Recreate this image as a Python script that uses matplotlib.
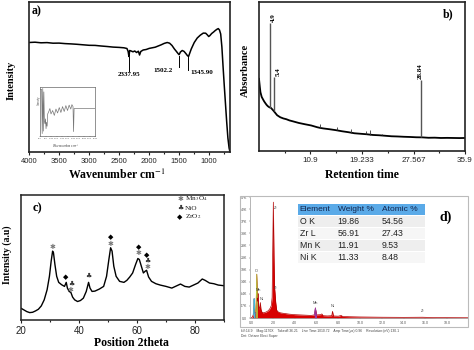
import numpy as np
import matplotlib
matplotlib.use("Agg")
import matplotlib.pyplot as plt
from matplotlib.patches import Rectangle

plt.rcParams['font.family'] = ['Liberation Sans', 'DejaVu Sans']
plt.rcParams['mathtext.fontset'] = 'stix'
SERIF = ['Liberation Serif', 'DejaVu Serif']
SYM = ['DejaVu Sans']

W, H = 474, 350

# a) FTIR spectrum
ftir_wn = [4000, 3900, 3800, 3700, 3600, 3500, 3400, 3300, 3200, 3100, 3000, 2900,
           2800, 2700, 2600, 2500, 2420, 2370, 2350, 2337, 2325, 2300, 2270, 2240,
           2210, 2180, 2160, 2140, 2100, 2050, 2000, 1950, 1900, 1850, 1800, 1750,
           1700, 1660, 1620, 1580, 1550, 1520, 1502, 1480, 1450, 1420, 1390, 1365,
           1345, 1330, 1300, 1250, 1200, 1150, 1100, 1060, 1030, 1010, 990, 960,
           930, 900, 870, 850, 830, 810, 790, 770, 750, 730, 710, 690, 670, 655]
ftir_val = [109.5, 109.8, 109.2, 109.4, 108.8, 108.9, 108.4, 108.1, 107.7, 107.2, 106.7, 106.6,
            106.0, 105.5, 104.9, 104.6, 104.2, 103.5, 100.5, 95.5, 101.5, 101.0, 100.2, 101.0,
            99.5, 100.8, 97.0, 100.5, 102.0, 102.5, 103.6, 104.2, 104.8, 106.0, 107.2, 108.6,
            109.5, 108.8, 106.5, 103.0, 100.8, 98.5, 97.3, 100.0, 101.5, 100.6, 98.5, 96.5,
            95.5, 98.0, 103.0, 109.5, 114.0, 116.8, 118.9, 118.8, 117.0, 115.5, 116.4, 118.5,
            119.9, 121.5, 122.8, 123.4, 122.0, 118.0, 105.0, 85.0, 66.0, 48.0, 30.0, 14.0, 4.0, 0.0]
ftir_marks = [2337.95, 1502.2, 1345.90]
ftir_mark_labels = ['2337.95', '1502.2', '1345.90']
ftir_ticks = [4000, 3500, 3000, 2500, 2000, 1500, 1000]

# a) inset
inset_x = [0, 3, 4, 5, 6, 7, 8, 9, 10, 11, 12, 13, 14, 16, 18, 20, 23, 26, 29, 32,
           35, 38, 41, 44, 47, 50, 53, 56, 58, 60, 61, 62, 65, 100]
inset_y = [0.95, 0.95, 0.05, 0.97, 0.1, 0.9, 0.3, 0.25, 0.35, 0.15, 0.28, 0.2, 0.45, 0.5,
           0.56, 0.45, 0.52, 0.42, 0.55, 0.47, 0.58, 0.48, 0.6, 0.5, 0.62, 0.52, 0.63, 0.55,
           0.64, 0.6, 0.09, 0.56, 0.56, 0.56]

# b) chromatogram
b_time = [2.567, 2.7, 2.8, 3.0, 3.2, 3.4, 3.6, 3.8, 4.0, 4.2, 4.5, 4.8, 5.2, 5.5, 6.0, 6.5,
          7.0, 7.5, 8.0, 9.0, 10.0, 11.0, 12.0, 12.5, 13.0, 14.0, 15.0, 16.0, 17.0, 18.0,
          19.0, 20.0, 21.0, 22.0, 23.0, 24.0, 25.0, 26.0, 27.0, 28.0, 29.0, 30.0, 31.0,
          32.0, 33.0, 34.0, 35.0, 35.9]
b_abs = [72, 64, 58.7, 54, 51.7, 49.5, 47.7, 46, 44.7, 43.8, 43, 41, 38, 35.7, 33.7, 32.5,
         31.7, 30.5, 29.7, 28, 26.7, 25.5, 23.7, 23, 22.5, 21.7, 20.8, 19.7, 18.8, 17.7,
         17.2, 16.7, 16, 15.7, 15.2, 14.7, 14.5, 14.2, 14, 13.7, 13.6, 13.2, 13.3,
         13, 13.1, 13, 12.9, 13]
b_peak_time = [4.35, 5.0, 28.7]
b_peak_abs = [128, 74, 70.7]
b_peak_labels = ['4.9', '5.4', '28.84']
b_small_time = [12.4, 15.2, 17.4, 19.8, 20.6, 22.4]
b_small_abs = [27, 24, 22, 20, 21, 17]
b_ticks = [10.9, 19.233, 27.567, 35.9]

# c) XRD
c_theta = [20, 21, 22, 23, 24, 25, 26, 27, 28, 29, 29.8, 30.4, 30.9, 31.2, 31.7, 32.3, 33,
           34, 35, 35.6, 36, 36.6, 37.2, 37.8, 38.5, 39.5, 40.5, 41.5, 42.5, 43.3, 43.8,
           44.5, 45.5, 47, 48.5, 49.5, 50.3, 50.9, 51.4, 52, 52.8, 54, 55.5, 56.5, 57.5,
           58.5, 59.5, 60.3, 60.8, 61.5, 62.2, 62.8, 63.3, 64, 65, 66.5, 68, 70, 72, 74,
           75, 76.5, 78, 79.5, 81, 82.5, 83.5, 85, 86.5, 88, 90]
c_int = [35, 30, 25, 22, 23, 27, 32, 42, 60, 90, 130, 175, 205, 200, 165, 130, 112,
         105, 100, 112, 95, 85, 82, 68, 60, 55, 58, 65, 85, 112, 95,
         85, 86, 92, 100, 130, 180, 215, 205, 160, 130, 115, 112, 118, 128,
         140, 165, 183, 180, 160, 140, 145, 148, 128, 115, 108, 104, 100, 95, 103,
         107, 100, 98, 104, 110, 122, 118, 110, 108, 104, 102]
ASTER, CLUB, DIAM = '\u2731', '\u2663', '\u25c6'
c_mark_theta = [30.9, 35.5, 37.2, 37.2, 43.3, 51.0, 51.0, 60.5, 60.5, 63.5, 63.5, 63.5]
c_mark_int = [217, 127, 108, 90, 130, 247, 227, 217, 198, 192, 175, 157]
c_mark_sym = [ASTER, DIAM, CLUB, ASTER, CLUB, DIAM, ASTER, DIAM, ASTER, DIAM, CLUB, ASTER]
c_legend = [(ASTER, 'Mn$_3$O$_4$'), (CLUB, 'NiO'), (DIAM, 'ZrO$_2$')]

# d) EDS spectrum (counts in K)
d_kev = [0.0, 0.1, 0.2, 0.25, 0.28, 0.31, 0.36, 0.42, 0.47, 0.52, 0.57, 0.61, 0.64, 0.68,
         0.74, 0.8, 0.85, 0.9, 0.98, 1.1, 1.3, 1.5, 1.65, 1.75, 1.85, 1.93, 1.98, 2.04,
         2.1, 2.15, 2.2, 2.26, 2.35, 2.5, 2.7, 3.0, 3.5, 4.0, 4.5, 5.0, 5.5, 5.8, 5.85,
         5.9, 5.95, 6.0, 6.4, 6.49, 6.6, 7.0, 7.4, 7.47, 7.55, 8.0, 8.26, 8.4, 9.0, 10.0,
         11.0, 12.0, 14.0, 15.7, 17.0, 19.9]
d_counts = [0, 0.3, 1.2, 4.5, 7.5, 4.0, 1.8, 2.5, 6.0, 17.0, 8.0, 6.5, 9.5, 5.0,
            3.2, 4.5, 6.0, 3.5, 2.4, 2.0, 2.2, 2.6, 3.2, 3.8, 4.8, 8.0, 25.0, 45.0,
            24.0, 12.0, 9.5, 6.0, 3.0, 2.3, 2.0, 1.8, 1.5, 1.3, 1.2, 1.1, 1.0, 1.2, 2.5,
            3.9, 2.4, 1.2, 1.3, 1.6, 0.9, 0.8, 0.9, 2.6, 0.8, 0.7, 1.0, 0.6, 0.5, 0.4,
            0.35, 0.3, 0.25, 0.3, 0.15, 0.1]
d_yticks = [0, 4.7, 9.4, 14.1, 18.8, 23.5, 28.2, 32.9, 37.6, 42.3, 47]
d_ylabels = ['0.0', '4.7K', '9.4K', '14K', '19K', '23K', '28K', '33K', '37K', '42K', '47K']
d_xticks = [0, 2, 4, 6, 8, 10, 12, 14, 16, 18]
d_peak_names = ['O', 'Mn', 'Ni', 'Zr', 'Zr', 'Mn', 'Ni', 'Zr']
d_peak_kev = [0.5, 0.68, 0.95, 2.3, 2.3, 5.9, 7.47, 15.7]
d_peak_cnt = [17.5, 10.0, 6.5, 42.0, 11.0, 5.0, 4.0, 2.0]
d_colored = [(0.2, 0.36, '#3fc0e0'), (0.42, 0.57, '#b8c840'), (5.8, 6.0, '#9a3aa8')]

tab_header = ['Element', 'Weight %', 'Atomic %']
tab_element = ['O K', 'Zr L', 'Mn K', 'Ni K']
tab_weight = [19.86, 56.91, 11.91, 11.33]
tab_atomic = [54.56, 27.43, 9.53, 8.48]

fig = plt.figure(figsize=(W / 100, H / 100), dpi=100)


def px_axes(l, t, r, b):
    return fig.add_axes([l / W, 1 - b / H, (r - l) / W, (b - t) / H])


def ftext(x, y, s, **kw):
    fig.text(x / W, 1 - y / H, s, **kw)


def frame(ax, lw=1.2):
    for sp in ax.spines.values():
        sp.set_linewidth(lw)
        sp.set_color('#222222')
    ax.set_yticks([])
    ax.tick_params(axis='x', which='both', direction='out', length=2.5, width=0.8,
                   pad=1.5, labelsize=5.5, colors='#222222')
    ax.tick_params(axis='x', which='minor', length=1.5)


# ---- panel a
ax = px_axes(29, 2, 230, 152)
ax.plot(ftir_wn, ftir_val, color='black', lw=1.1)
ax.set_xlim(4000, 655)
ax.set_ylim(0, 150)
ax.set_xticks(ftir_ticks)
ax.set_xticks(np.arange(3750, 700, -500), minor=True)
frame(ax)
label_y = [78, 82, 79]
label_ha = ['center', 'right', 'left']
label_dx = [0, 110, -25]
for wn, lab, ly, ha, dx in zip(ftir_marks, ftir_mark_labels, label_y, label_ha, label_dx):
    yv = np.interp(-wn, -np.array(ftir_wn), ftir_val)
    ax.plot([wn, wn], [yv - 1, ly + 3.5], color='black', lw=0.7)
    ax.text(wn + dx, ly, lab, ha=ha, va='center', fontsize=5, fontweight='bold',
            family=SERIF)
ftext(37, 11, 'a)', fontsize=8.5, fontweight='bold', family=SERIF, ha='center', va='center')
ftext(11, 80, 'Intensity', fontsize=7.5, fontweight='bold', family=SERIF, rotation=90,
      ha='center', va='center')
ftext(117, 175, 'Wavenumber cm$^{-1}$', fontsize=8.5, fontweight='bold', family=SERIF,
      ha='center', va='center')

ins = px_axes(40, 87, 95, 136)
ins.plot(inset_x, inset_y, color='#777777', lw=0.5)
ins.set_xlim(0, 100)
ins.set_ylim(0, 1)
ins.set_yticks([])
ins.set_xticks(np.arange(0, 101, 10))
ins.set_xticklabels([str(v) for v in range(500, 4001, 350)][:11])
ins.tick_params(labelsize=1.6, length=1, width=0.3, pad=0.5, colors='#555555')
for sp in ins.spines.values():
    sp.set_linewidth(0.5)
    sp.set_color('#666666')
ftext(66, 145, 'Wavenumber cm$^{-1}$', fontsize=2.2, ha='center', va='center', color='#444444')
ftext(38.5, 100, 'Intensity', fontsize=1.8, rotation=90, ha='center', va='center',
      color='#444444')

# ---- panel b
bx = px_axes(259, 2, 465, 151)
bx.plot(b_time, b_abs, color='black', lw=1.3)
base = np.interp(b_peak_time, b_time, b_abs)
bx.vlines(b_peak_time, base, b_peak_abs, color='#555555', lw=1.0)
sbase = np.interp(b_small_time, b_time, b_abs)
bx.vlines(b_small_time, sbase, b_small_abs, color='#333333', lw=0.6)
bx.set_xlim(2.567, 35.9)
bx.set_ylim(0, 148.7)
bx.set_xticks(b_ticks)
bx.set_xticklabels(['10.9', '19.233', '27.567', '35.9'])
bx.set_xticks([6.733, 15.067, 23.4, 31.733], minor=True)
frame(bx)
bx.tick_params(axis='x', labelsize=5.8)
for t, a, lab, dx in zip(b_peak_time, b_peak_abs, b_peak_labels, [0.6, 0.6, 0.0]):
    bx.text(t + dx, a + 1, lab, rotation=90, ha='center', va='bottom', fontsize=5,
            fontweight='bold', family=SERIF)
ftext(448, 14, 'b)', fontsize=8.5, fontweight='bold', family=SERIF, ha='center', va='center')
ftext(245, 70, 'Absorbance', fontsize=7.5, fontweight='bold', family=SERIF, rotation=90,
      ha='center', va='center')
ftext(362, 175, 'Retention time', fontsize=8.5, fontweight='bold', family=SERIF,
      ha='center', va='center')

# ---- panel c
cx = px_axes(21, 195, 224, 320)
cx.plot(c_theta, c_int, color='black', lw=1.0)
cx.set_xlim(20, 90)
cx.set_ylim(0, 372)
cx.set_xticks([20, 40, 60, 80])
cx.set_xticks([30, 50, 70, 90], minor=True)
frame(cx, lw=1.1)
cx.tick_params(axis='x', labelsize=7)
sym_col = {ASTER: '#777777', CLUB: '#333333', DIAM: '#000000'}
for th, iv, s in zip(c_mark_theta, c_mark_int, c_mark_sym):
    cx.text(th, iv, s, ha='center', va='center', fontsize=5, color=sym_col[s], family=SYM)
for i, (s, lab) in enumerate(c_legend):
    y = 199 + i * 9
    ftext(180, y, s, fontsize=5, color=sym_col[s], family=SYM, ha='center', va='center')
    ftext(185, y, lab, fontsize=5.2, family=SERIF, ha='left', va='center', color='#222222')
ftext(37, 208, 'c)', fontsize=9, fontweight='bold', family=SERIF, ha='center', va='center')
ftext(7, 255, 'Intensity (a.u)', fontsize=7, fontweight='bold', family=SERIF, rotation=90,
      ha='center', va='center')
ftext(131, 343, 'Position 2theta', fontsize=8.5, fontweight='bold', family=SERIF,
      ha='center', va='center')

# ---- panel d
fig.patches.append(Rectangle((240 / W, 1 - 327 / H), 228 / W, 131 / H, transform=fig.transFigure,
                             facecolor='none', edgecolor='#bbbbbb', lw=0.8))
dx_ = px_axes(250, 197, 468, 318)
dx_.patch.set_alpha(0)
kev = np.array(d_kev)
cnt = np.array(d_counts)
dx_.fill_between(kev, 0, cnt, color='#d80000', lw=0)
dx_.plot(kev, cnt, color='#b00000', lw=0.5)
for lo, hi, col in d_colored:
    m = (kev >= lo) & (kev <= hi)
    dx_.fill_between(kev[m], 0, cnt[m], color=col, lw=0)
    dx_.plot(kev[m], cnt[m], color=col, lw=0.6)
dx_.set_xlim(-0.1, 19.9)
dx_.set_ylim(0, 47)
dx_.set_yticks(d_yticks)
dx_.set_yticklabels(d_ylabels)
dx_.set_xticks(d_xticks)
dx_.set_xticklabels(['%.1f' % v for v in d_xticks])
dx_.tick_params(labelsize=2.6, length=1, width=0.3, pad=1, colors='#555555')
for side in ['top', 'right']:
    dx_.spines[side].set_visible(False)
for side in ['left', 'bottom']:
    dx_.spines[side].set_linewidth(0.5)
    dx_.spines[side].set_color('#999999')
for name, k, c in zip(d_peak_names, d_peak_kev, d_peak_cnt):
    dx_.text(k, c, name, fontsize=2.8, color='#444444', ha='center', va='bottom')
ftext(241, 331, 'kV:14.9    Mag:1170X    Takeoff:36.21    Live Time:1010.72    '
      'Amp Time(\u00b5s):0.96    Resolution:(eV):130.1', fontsize=2.4, color='#444444',
      ha='left', va='center')
ftext(241, 336, 'Det: Octane Elect Super', fontsize=2.4, color='#444444', ha='left',
      va='center')

tx = px_axes(298, 204, 425, 264)
tx.axis('off')
tx.set_xlim(0, 127)
tx.set_ylim(60, 0)
col_x = [0, 38, 82]
tx.add_patch(Rectangle((0, 0), 127, 11, facecolor='#5aaae8', lw=0))
for j, h in enumerate(tab_header):
    tx.text(col_x[j] + 1.5, 5.8, h, fontsize=6, color='#13254d', va='center', ha='left')
for i in range(len(tab_element)):
    y0 = 11.5 + i * 12
    tx.add_patch(Rectangle((0, y0), 127, 11.5,
                           facecolor='#eeeeee' if i % 2 == 0 else '#f6f6f6', lw=0))
    row = [tab_element[i], '%.2f' % tab_weight[i], '%.2f' % tab_atomic[i]]
    for j, v in enumerate(row):
        tx.text(col_x[j] + 1.5, y0 + 6, v, fontsize=6.3, color='#222222', va='center',
                ha='left')
ftext(446, 217, 'd)', fontsize=10, fontweight='bold', family=SERIF, ha='center', va='center')

fig.savefig('out.png', dpi=100)
